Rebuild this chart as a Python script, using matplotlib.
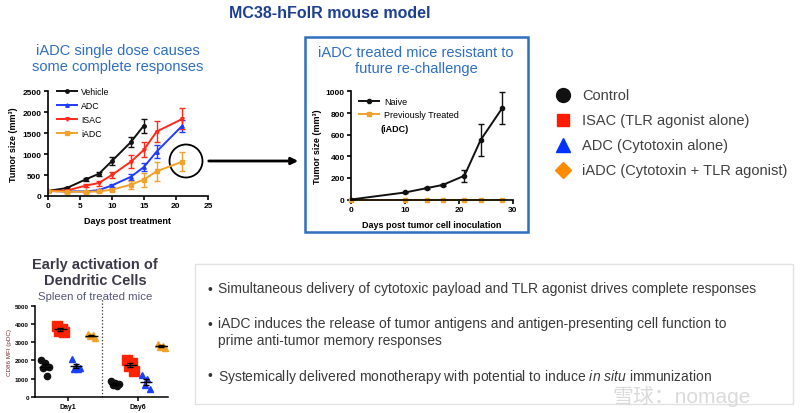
import numpy as np
import matplotlib.pyplot as plt
from matplotlib.lines import Line2D
from matplotlib.patches import Ellipse, Rectangle, FancyArrowPatch

plt.rcParams['font.family'] = ['Liberation Sans', 'Noto Sans CJK SC', 'DejaVu Sans']
plt.rcParams['mathtext.fontset'] = 'custom'
plt.rcParams['mathtext.rm'] = 'Liberation Sans'
plt.rcParams['mathtext.it'] = 'Liberation Sans:italic'

#  Data: single dose tumor growth
days1 = [0, 3, 6, 8, 10, 13, 15, 17, 21]
vehicle = [120, 190, 400, 530, 830, 1290, 1680]
vehicle_err = [20, 30, 30, 50, 100, 130, 170]
adc = [120, 110, 110, 140, 250, 460, 690, 1060, 1680]
adc_err = [20, 20, 20, 30, 40, 70, 100, 150, 140]
isac = [120, 130, 250, 310, 500, 820, 1100, 1540, 1840]
isac_err = [20, 20, 40, 60, 70, 160, 180, 250, 250]
iadc = [120, 100, 100, 110, 150, 270, 390, 590, 820]
iadc_err = [20, 20, 20, 20, 40, 100, 170, 220, 220]

#  Data: re-challenge
days2 = [0, 10, 14, 17, 21, 24, 28]
naive = [0, 65, 105, 135, 220, 550, 845]
naive_err = [0, 8, 10, 12, 55, 150, 150]
treated = [0, 0, 0, 0, 0, 0, 0]

#  Data: CD86 MFI on pDC
day_labels = ["Day1", "Day6"]
groups = ["Control", "ISAC", "ADC", "iADC"]
cd86_day1 = {
    "Control": [2050, 1850, 1650, 1600, 1150],
    "ISAC": [3900, 3750, 3600, 3550],
    "ADC": [2100, 1700, 1600, 1550, 1550],
    "iADC": [3450, 3400, 3350, 3250],
}
cd86_day6 = {
    "Control": [850, 750, 700, 650, 600],
    "ISAC": [2000, 1850, 1700, 1450],
    "ADC": [1200, 1000, 650, 450],
    "iADC": [2900, 2800, 2750, 2700],
}

legend_labels = ["Control", "ISAC (TLR agonist alone)", "ADC (Cytotoxin alone)",
                 "iADC (Cytotoxin + TLR agonist)"]

bullets = [
    "Simultaneous delivery of cytotoxic payload and TLR agonist drives complete responses",
    "iADC induces the release of tumor antigens and antigen-presenting cell function to\nprime anti-tumor memory responses",
    "Systemically delivered monotherapy with potential to induce $\\it{in\\ situ}$ immunization",
]

BLACK, BLUE, RED, ORANGE = "#111111", "#1f3cff", "#ff2a1a", "#f2a22c"
TITLE_BLUE, SUB_BLUE = "#1c3f94", "#2e6fc0"
W, H = 800, 414

fig = plt.figure(figsize=(W / 100, H / 100), dpi=100)

# background axes in pixel coords for the slide decorations
bg = fig.add_axes([0, 0, 1, 1], zorder=0)
bg.set_xlim(0, W)
bg.set_ylim(H, 0)
bg.axis("off")


def px_axes(left, top, right, bottom):
    return fig.add_axes([left / W, 1 - bottom / H, (right - left) / W, (bottom - top) / H],
                        facecolor="none", zorder=2)


def style(ax, lw=1.2, fs=6):
    for s in ["top", "right"]:
        ax.spines[s].set_visible(False)
    for s in ["left", "bottom"]:
        ax.spines[s].set_linewidth(lw)
    ax.tick_params(length=3, width=lw, labelsize=fs, pad=1.5)
    for lab in ax.get_xticklabels() + ax.get_yticklabels():
        lab.set_fontweight("bold")


def handle(color, marker, ms=3):
    return Line2D([], [], color=color, marker=marker, ms=ms, lw=1.4)


#  Titles
bg.text(330, 14, "MC38-hFolR mouse model", ha="center", va="center",
        fontsize=11.5, fontweight="bold", color=TITLE_BLUE)
bg.text(118, 59, "iADC single dose causes\nsome complete responses", ha="center", va="center",
        fontsize=10.5, color=SUB_BLUE, linespacing=1.2)
bg.text(416, 61, "iADC treated mice resistant to\nfuture re-challenge", ha="center", va="center",
        fontsize=10.5, color=SUB_BLUE, linespacing=1.2)

#  Panel 1
ax1 = px_axes(47.5, 92.3, 208, 197)
ax1.errorbar(days1[:len(vehicle)], vehicle, yerr=vehicle_err, color=BLACK, marker="o", ms=2.5,
             lw=1.4, capsize=2.5, elinewidth=1)
ax1.errorbar(days1, adc, yerr=adc_err, color=BLUE, marker="^", ms=2.5,
             lw=1.4, capsize=2.5, elinewidth=1)
ax1.errorbar(days1, isac, yerr=isac_err, color=RED, marker="v", ms=2.5,
             lw=1.4, capsize=2.5, elinewidth=1)
ax1.errorbar(days1, iadc, yerr=iadc_err, color=ORANGE, marker="s", ms=3,
             lw=1.4, capsize=2.5, elinewidth=1)
ax1.set_xlim(0, 25)
ax1.set_ylim(0, 2500)
ax1.set_xticks(range(0, 26, 5))
ax1.set_yticks(range(0, 2501, 500))
style(ax1)
ax1.set_xlabel("Days post treatment", fontsize=6.5, fontweight="bold", labelpad=5)
ax1.set_ylabel("Tumor size (mm³)", fontsize=6.5, fontweight="bold", labelpad=3)
ax1.legend([handle(BLACK, "o", 2.5), handle(BLUE, "^", 2.5), handle(RED, "v", 2.5),
            handle(ORANGE, "s", 3)], ["Vehicle", "ADC", "ISAC", "iADC"],
           loc="upper left", bbox_to_anchor=(0.04, 1.07), frameon=False, fontsize=6.3,
           handlelength=2.2, labelspacing=0.55, handletextpad=0.5, borderaxespad=0)

# circle around the iADC endpoint and arrow to the re-challenge panel
bg.add_patch(Ellipse((186, 162), 33, 33, fill=False, lw=1.3, ec="black"))
bg.add_patch(FancyArrowPatch((206, 162), (301, 162), arrowstyle="-|>", mutation_scale=10,
                             lw=2, color="black"))

#  Panel 2
bg.add_patch(Rectangle((305, 38), 223, 195, fill=False, lw=1.8, ec="#2f6fbf"))
ax2 = px_axes(351, 92.4, 513, 200.5)
ax2.errorbar(days2, naive, yerr=naive_err, color=BLACK, marker="o", ms=3,
             lw=1.4, capsize=2.5, elinewidth=1)
ax2.plot(days2, treated, color=ORANGE, marker="s", ms=3, lw=1.4, clip_on=False)
ax2.set_xlim(0, 30)
ax2.set_ylim(0, 1000)
ax2.set_xticks(range(0, 31, 10))
ax2.set_yticks(range(0, 1001, 200))
style(ax2)
ax2.set_xlabel("Days post tumor cell inoculation", fontsize=6.5, fontweight="bold", labelpad=5)
ax2.set_ylabel("Tumor size (mm³)", fontsize=6.5, fontweight="bold", labelpad=3)
ax2.legend([handle(BLACK, "o"), handle(ORANGE, "s")], ["Naive", "Previously Treated"],
           loc="upper left", bbox_to_anchor=(0.03, 0.98), frameon=False, fontsize=6.5,
           handlelength=2.2, labelspacing=0.45, handletextpad=0.5, borderaxespad=0)
ax2.text(0.185, 0.655, "(iADC)", transform=ax2.transAxes, fontsize=6.5, fontweight="bold",
         va="center")

#  Right-hand key
key_markers = [("o", BLACK, 10), ("s", "#ff1a00", 8), ("^", "#0033ff", 10), ("D", "#ff8c00", 8.5)]
for i, (lab, (m, c, s)) in enumerate(zip(legend_labels, key_markers)):
    y = 96 + i * 25
    bg.plot([563], [y], marker=m, color=c, ms=s, ls="none")
    bg.text(582, y, lab, va="center", ha="left", fontsize=10.5, color="#404040")

#  Panel 3: dendritic cell activation
bg.text(95, 273, "Early activation of\nDendritic Cells", ha="center", va="center",
        fontsize=10.5, fontweight="bold", color="#3a3a4a", linespacing=1.15)
bg.text(95, 297, "Spleen of treated mice", ha="center", va="center", fontsize=8.2, color="#55557a")

ax3 = px_axes(35, 306.7, 168, 398)
group_style = {
    "Control": ("o", BLACK, 4.5),
    "ISAC": ("s", "#ff2200", 7),
    "ADC": ("^", "#1a40ff", 5),
    "iADC": ("^", ORANGE, 5),
}
day_start = [0.67, 5.33]
spacing = 1.03
centers = []
for d, data in enumerate([cd86_day1, cd86_day6]):
    xs_day = []
    for g_i, g in enumerate(groups):
        vals = np.array(data[g])
        xc = day_start[d] + g_i * spacing
        xs_day.append(xc)
        m, c, s = group_style[g]
        order = [0, 2, 4, 1, 3] if len(vals) == 5 else [0, 2, 1, 3]
        offs = np.linspace(-0.25, 0.25, len(vals))[order]
        ax3.plot(xc + offs, vals, ls="none", marker=m, color=c, ms=s, zorder=3)
        mean = vals.mean()
        sem = vals.std(ddof=1) / np.sqrt(len(vals))
        ax3.hlines(mean, xc - 0.42, xc + 0.42, color="black", lw=1, zorder=4)
        ax3.errorbar([xc], [mean], yerr=[sem], color="black", lw=0.8, capsize=2, zorder=4)
    centers.append(np.mean(xs_day))
ax3.axvline(4.47, ymin=0, ymax=1.08, color="#333333", ls=":", lw=0.9, clip_on=False)
ax3.set_xlim(0, 8.87)
ax3.set_ylim(0, 5000)
ax3.set_yticks(range(0, 5001, 1000))
ax3.set_xticks(centers, day_labels)
style(ax3, lw=1.1, fs=4.5)
ax3.tick_params(axis="x", labelsize=5)
ax3.set_ylabel("CD86 MFI (pDC)", fontsize=4.5, color="#7a2e2e", labelpad=2)

#  Bullet text box
bg.add_patch(Rectangle((195, 265), 598, 140, fill=False, lw=1, ec="#e2e2e2"))
for y, txt in zip([290, 325, 376], bullets):
    bg.text(207, y, "•", va="center", fontsize=10, color="#333333")
    bg.text(218, y - 8, txt, va="top", fontsize=10, color="#3a3a3a", linespacing=1.3)

#  Watermark
bg.text(612, 396, "雪球：nomage", va="center", ha="left", fontsize=15,
        color="#d4d4d4", alpha=0.85, zorder=5)

fig.savefig("out.png", dpi=100)
